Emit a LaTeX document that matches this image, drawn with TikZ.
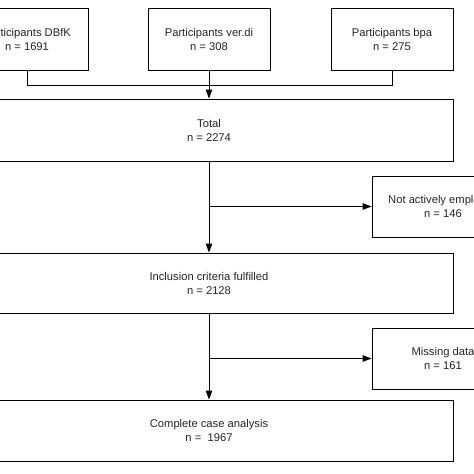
\documentclass[tikz,border=0pt]{standalone}
\usepackage{fontspec}
\setmainfont{Liberation Sans}
\usetikzlibrary{arrows.meta}
\begin{document}
\begin{tikzpicture}[x=1pt,y=-1pt,
  box/.style={draw=black,line width=0.9pt,fill=white,align=center,inner sep=0pt,
    font=\fontsize{11.2}{14}\selectfont,text=black!85},
  conn/.style={draw=black,line width=0.9pt},
  arr/.style={conn,-{Triangle[length=9pt,width=6.5pt]}}]
\useasboundingbox (0,0) rectangle (474,474);
\clip (0,0) rectangle (474,474);
\node[box,minimum width=122pt,minimum height=62pt] (p1) at (27,39) {Participants DBfK\\n = 1691};
\node[box,minimum width=122pt,minimum height=62pt] (p2) at (209,39) {Participants ver.di\\n = 308};
\node[box,minimum width=122pt,minimum height=62pt] (p3) at (392,39) {Participants bpa\\n = 275};
\node[box,minimum width=488pt,minimum height=62pt] (tot) at (209,130) {Total\\n = 2274};
\node[box,minimum width=142pt,minimum height=61pt] (na) at (443,206.5) {Not actively employed\\n = 146};
\node[box,minimum width=488pt,minimum height=60pt] (inc) at (209,283) {Inclusion criteria fulfilled\\n = 2128};
\node[box,minimum width=142pt,minimum height=61pt] (md) at (443,358.5) {Missing data\\n = 161};
\node[box,minimum width=488pt,minimum height=61pt] (cc) at (209,430.5) {Complete case analysis\\n =\ \ 1967};
\coordinate (j) at (209,85);
\draw[conn] (p1.south) |- (j);
\draw[conn] (p3.south) |- (j);
\draw[arr] (p2.south) -- (tot.north);
\draw[arr] (tot.south) -- (inc.north);
\draw[arr] (tot.south |- na.west) -- (na.west);
\draw[arr] (inc.south) -- (cc.north);
\draw[arr] (inc.south |- md.west) -- (md.west);
\end{tikzpicture}
\end{document}
